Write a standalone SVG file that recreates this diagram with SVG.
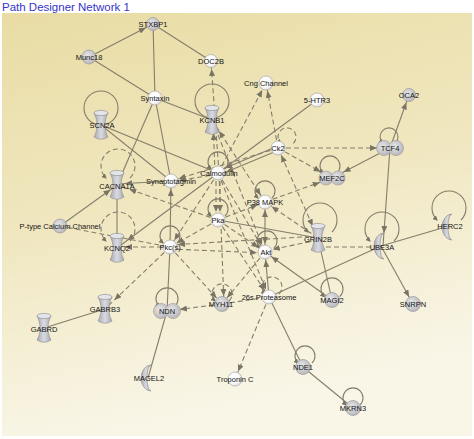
<svg xmlns="http://www.w3.org/2000/svg" xmlns:xlink="http://www.w3.org/1999/xlink" width="474" height="439" viewBox="0 0 474 439">
<defs>
<style>
.e{stroke:#847e6c;stroke-width:1.1;fill:none}
.d{stroke-dasharray:5 3}
.lbl{font-family:"Liberation Sans",Arial,sans-serif;font-size:7.5px;fill:#141414;text-anchor:middle}
.wn{fill:url(#gw);stroke:#a8a8a8;stroke-width:0.7}
.gn{fill:url(#gg);stroke:#9a9a9e;stroke-width:0.7}
.gf{fill:url(#gg);stroke:none}
.ch{fill:url(#gc);stroke:#8a8a90;stroke-width:0.6}
</style>
<linearGradient id="bg" x1="0" y1="0" x2="0.25" y2="1">
<stop offset="0" stop-color="#e9dca4"/>
<stop offset="0.5" stop-color="#f0e7c0"/>
<stop offset="1" stop-color="#f9f6e8"/>
</linearGradient>
<radialGradient id="gw" cx="0.4" cy="0.4" r="0.65">
<stop offset="0" stop-color="#ffffff"/>
<stop offset="0.6" stop-color="#fbfbfb"/>
<stop offset="1" stop-color="#dedede"/>
</radialGradient>
<radialGradient id="gg" cx="0.4" cy="0.4" r="0.65">
<stop offset="0" stop-color="#e8e8ea"/>
<stop offset="1" stop-color="#b6b6ba"/>
</radialGradient>
<linearGradient id="gc" x1="0" y1="0" x2="1" y2="0">
<stop offset="0" stop-color="#a8a9b1"/>
<stop offset="0.5" stop-color="#dadbe0"/>
<stop offset="1" stop-color="#a8a9b1"/>
</linearGradient>
<marker id="a8" viewBox="0 -3 7 6" refX="15" refY="0" markerWidth="7" markerHeight="6" markerUnits="userSpaceOnUse" orient="auto-start-reverse"><path d="M0,-3L7,0L0,3Z" fill="#7a7464"/></marker>
<marker id="a13" viewBox="0 -3 7 6" refX="20" refY="0" markerWidth="7" markerHeight="6" markerUnits="userSpaceOnUse" orient="auto-start-reverse"><path d="M0,-3L7,0L0,3Z" fill="#7a7464"/></marker>
<marker id="lp" viewBox="0 -2.5 5 5" refX="4" refY="0" markerWidth="5" markerHeight="5" markerUnits="userSpaceOnUse" orient="auto"><path d="M0,-2.5L5,0L0,2.5Z" fill="#7a7464"/></marker>
<g id="chan">
<path class="ch" d="M-7,-12 C-3,-5 -3,5 -7,12 Q0,16.5 7,12 C3,5 3,-5 7,-12 Z"/>
<ellipse cx="0" cy="-12" rx="7" ry="2.6" fill="#e4e5e9" stroke="#8a8a90" stroke-width="0.6"/>
</g>
<path id="cres" d="M3,-13 A10,13 0 0 0 3,13 A4,13 0 0 1 3,-13 Z" fill="url(#gc)" stroke="#8a8a90" stroke-width="0.6"/>
</defs>

<rect x="0" y="0" width="474" height="439" fill="#ffffff"/>
<rect x="2" y="13" width="470" height="423" fill="url(#bg)"/>
<text x="2" y="11" font-family="'Liberation Sans',Arial,sans-serif" font-size="11.5px" fill="#3535c8">Path Designer Network 1</text>

<g id="edges" class="e">
<!-- solid -->
<line x1="89" y1="57" x2="153" y2="24" marker-end="url(#a8)"/>
<line x1="89" y1="57" x2="155" y2="98"/>
<line x1="153" y1="24" x2="155" y2="98"/>
<line x1="153" y1="24" x2="211" y2="61"/>
<line x1="155" y1="98" x2="212" y2="120"/>
<line x1="155" y1="98" x2="117" y2="185"/>
<line x1="155" y1="98" x2="171" y2="181"/>
<line x1="101" y1="125" x2="171" y2="181"/>
<line x1="101" y1="125" x2="218" y2="173"/>
<line x1="317" y1="100" x2="218" y2="173"/>
<line x1="218" y1="173" x2="117" y2="248" marker-end="url(#a13)"/>
<line x1="60" y1="226" x2="117" y2="185" marker-end="url(#a8)"/>
<line x1="117" y1="185" x2="117" y2="248"/>
<line x1="171" y1="181" x2="117" y2="184" marker-end="url(#a8)"/>
<line x1="170" y1="247" x2="171" y2="181" marker-end="url(#a8)"/>
<line x1="170" y1="247" x2="167" y2="311"/>
<line x1="278" y1="146" x2="218" y2="171" marker-end="url(#a8)"/>
<line x1="279" y1="150" x2="219" y2="175" marker-end="url(#a8)"/>
<line x1="218" y1="220" x2="318" y2="238"/>
<line x1="265" y1="252" x2="265" y2="202" marker-start="url(#a8)" marker-end="url(#a8)"/>
<line x1="318" y1="238" x2="332" y2="300"/>
<line x1="332" y1="300" x2="265" y2="252" marker-end="url(#a8)"/>
<line x1="269" y1="297" x2="265" y2="252" marker-end="url(#a8)"/>
<line x1="381" y1="246" x2="269" y2="297"/>
<line x1="449" y1="226" x2="381" y2="246"/>
<line x1="390" y1="148" x2="383" y2="246" marker-end="url(#a13)"/>
<line x1="390" y1="148" x2="332" y2="178" marker-end="url(#a13)"/>
<line x1="390" y1="148" x2="409" y2="95" marker-end="url(#a8)"/>
<line x1="381" y1="246" x2="413" y2="304" marker-end="url(#a8)"/>
<line x1="269" y1="297" x2="303" y2="367"/>
<line x1="303" y1="367" x2="353" y2="408"/>
<line x1="167" y1="311" x2="148" y2="378"/>
<line x1="105" y1="309" x2="44" y2="328"/>
<!-- dashed -->
<g class="d">
<line x1="215" y1="173" x2="213" y2="120" marker-end="url(#a13)"/>
<line x1="219" y1="173" x2="211" y2="61" marker-end="url(#a8)"/>
<line x1="218" y1="173" x2="266" y2="83" marker-end="url(#a8)"/>
<line x1="278" y1="148" x2="266" y2="83" marker-end="url(#a8)"/>
<line x1="212" y1="120" x2="265" y2="202" marker-start="url(#a13)" marker-end="url(#a8)"/>
<line x1="212" y1="120" x2="265" y2="252" marker-end="url(#a8)"/>
<line x1="278" y1="148" x2="332" y2="178" marker-end="url(#a13)"/>
<line x1="278" y1="148" x2="390" y2="148" marker-end="url(#a13)"/>
<line x1="278" y1="148" x2="318" y2="238" marker-start="url(#a8)" marker-end="url(#a13)"/>
<line x1="278" y1="148" x2="171" y2="181" marker-end="url(#a8)"/>
<line x1="218" y1="174" x2="171" y2="182" marker-end="url(#a8)"/>
<line x1="216" y1="173" x2="216" y2="220" marker-end="url(#a8)"/>
<line x1="220" y1="173" x2="220" y2="220" marker-end="url(#a8)"/>
<line x1="218" y1="173" x2="170" y2="247" marker-end="url(#a8)"/>
<line x1="218" y1="173" x2="265" y2="252" marker-end="url(#a8)"/>
<line x1="218" y1="220" x2="265" y2="202" marker-end="url(#a8)"/>
<line x1="218" y1="220" x2="265" y2="252" marker-end="url(#a8)"/>
<line x1="218" y1="220" x2="170" y2="247" marker-end="url(#a8)"/>
<line x1="218" y1="220" x2="117" y2="185" marker-end="url(#a13)"/>
<line x1="218" y1="220" x2="269" y2="297" marker-end="url(#a8)"/>
<line x1="318" y1="238" x2="265" y2="202" marker-end="url(#a8)"/>
<line x1="265" y1="202" x2="332" y2="178" marker-end="url(#a13)"/>
<line x1="318" y1="240" x2="265" y2="251" marker-end="url(#a8)"/>
<line x1="318" y1="247" x2="381" y2="247"/>
<line x1="318" y1="236" x2="170" y2="245" marker-end="url(#a8)"/>
<line x1="170" y1="249" x2="265" y2="253" marker-end="url(#a8)"/>
<line x1="170" y1="247" x2="117" y2="247" marker-end="url(#a8)"/>
<line x1="60" y1="226" x2="170" y2="247"/>
<line x1="170" y1="247" x2="105" y2="309" marker-end="url(#a13)"/>
<line x1="265" y1="252" x2="222" y2="304" marker-end="url(#a8)"/>
<line x1="219" y1="173" x2="224" y2="304" marker-end="url(#a8)"/>
<line x1="170" y1="247" x2="222" y2="304" marker-end="url(#a8)"/>
<line x1="218" y1="173" x2="269" y2="297" marker-end="url(#a8)"/>
<line x1="222" y1="304" x2="167" y2="311" marker-end="url(#a13)"/>
<line x1="222" y1="304" x2="269" y2="297"/>
<line x1="269" y1="297" x2="235" y2="379" marker-end="url(#a8)"/>
</g>
<!-- self loops -->
<circle cx="101" cy="108" r="17"/>
<circle cx="212" cy="101" r="17"/>
<path class="d" d="M130,178 A17,17 0 1 0 106,178" marker-end="url(#lp)"/>
<path class="d" d="M130,241 A17,17 0 1 0 106,241" marker-end="url(#lp)"/>
<path d="M225,169 A10,10 0 1 0 211,169" marker-end="url(#lp)"/>
<path d="M225,216 A10,10 0 1 0 211,216" marker-end="url(#lp)"/>
<path d="M272,198 A10,10 0 1 0 258,198" marker-end="url(#lp)"/>
<path d="M274,248 A10,10 0 1 0 260,248" marker-end="url(#lp)"/>
<path d="M177,243 A10,10 0 1 0 163,243" marker-end="url(#lp)"/>
<path class="d" d="M293.3,143.3 A9,9 0 1 0 280.7,143.3" marker-end="url(#lp)"/>
<path d="M337,173 A10,10 0 1 0 323,173" marker-end="url(#lp)"/>
<path d="M395.3,143.3 A9,9 0 1 0 382.7,143.3" marker-end="url(#lp)"/>
<path d="M332,232 A17,17 0 1 0 308,232" marker-end="url(#lp)"/>
<path d="M394,241 A17,17 0 1 0 370,241" marker-end="url(#lp)"/>
<path d="M461,220 A17,17 0 1 0 437,220" marker-end="url(#lp)"/>
<path d="M174.7,306.7 A11,11 0 1 0 159.3,306.7" marker-end="url(#lp)"/>
<path class="d" d="M229,301 A10,10 0 1 0 215,301" marker-end="url(#lp)"/>
<path class="d" d="M279,294 A10,10 0 1 0 265,294" marker-end="url(#lp)"/>
<path d="M339.7,296.7 A11,11 0 1 0 324.3,296.7" marker-end="url(#lp)"/>
<path d="M312,363 A10,10 0 1 0 298,363" marker-end="url(#lp)"/>
<path d="M360,405 A10,10 0 1 0 346,405" marker-end="url(#lp)"/>
</g>

<g id="n-stxbp1"><circle class="gn" cx="153" cy="24" r="6.5"/><text class="lbl" x="153" y="27">STXBP1</text></g>
<g id="n-munc18"><circle class="gn" cx="89" cy="57" r="7"/><text class="lbl" x="89" y="60">Munc18</text></g>
<g id="n-doc2b"><circle class="wn" cx="211" cy="61" r="6.5"/><text class="lbl" x="211" y="64">DOC2B</text></g>
<g id="n-syntaxin"><circle class="wn" cx="155" cy="98" r="7"/><text class="lbl" x="155" y="101">Syntaxin</text></g>
<g id="n-cng"><circle class="wn" cx="266" cy="83" r="7"/><text class="lbl" x="266" y="86">Cng Channel</text></g>
<g id="n-5htr3"><circle class="wn" cx="317" cy="100" r="7"/><text class="lbl" x="317" y="103">5-HTR3</text></g>
<g id="n-oca2"><circle class="gn" cx="409" cy="95" r="6.5"/><text class="lbl" x="409" y="98">OCA2</text></g>
<g id="n-scn2a"><use href="#chan" x="101" y="125"/><text class="lbl" x="102" y="128">SCN2A</text></g>
<g id="n-kcnb1"><use href="#chan" x="212" y="120"/><text class="lbl" x="212" y="123">KCNB1</text></g>
<g id="n-cacna1a"><use href="#chan" x="117" y="185"/><text class="lbl" x="117" y="189">CACNA1A</text></g>
<g id="n-synaptotagmin"><circle class="wn" cx="171" cy="181" r="7"/><text class="lbl" x="171" y="184">Synaptotagmin</text></g>
<g id="n-calmodulin"><circle class="wn" cx="218" cy="173" r="7"/><text class="lbl" x="219" y="176">Calmodulin</text></g>
<g id="n-ck2"><circle class="wn" cx="278" cy="148" r="7"/><text class="lbl" x="278" y="151">Ck2</text></g>
<g id="n-mef2c"><circle class="gn" cx="326" cy="178" r="7"/><circle class="gn" cx="338" cy="178" r="7"/><circle class="gf" cx="326" cy="178" r="6.6"/><circle class="gf" cx="338" cy="178" r="6.6"/><text class="lbl" x="332" y="181">MEF2C</text></g>
<g id="n-tcf4"><circle class="gn" cx="384" cy="148" r="7.5"/><circle class="gn" cx="396" cy="148" r="7.5"/><circle class="gf" cx="384" cy="148" r="7.1"/><circle class="gf" cx="396" cy="148" r="7.1"/><text class="lbl" x="390" y="151">TCF4</text></g>
<g id="n-p38"><circle class="wn" cx="265" cy="202" r="7"/><text class="lbl" x="265" y="205">P38 MAPK</text></g>
<g id="n-pka"><circle class="wn" cx="218" cy="220" r="7"/><text class="lbl" x="218" y="223">Pka</text></g>
<g id="n-grin2b"><use href="#chan" x="318" y="238"/><text class="lbl" x="318" y="242">GRIN2B</text></g>
<g id="n-ube3a"><use href="#cres" x="381" y="246"/><text class="lbl" x="382" y="250">UBE3A</text></g>
<g id="n-herc2"><use href="#cres" x="449" y="227"/><text class="lbl" x="450" y="229">HERC2</text></g>
<g id="n-ptype"><circle class="gn" cx="60" cy="226" r="7"/><text class="lbl" x="60" y="229">P-type Calcium Channel</text></g>
<g id="n-kcnq2"><use href="#chan" x="117" y="248"/><text class="lbl" x="117" y="251">KCNQ2</text></g>
<g id="n-pkcs"><circle class="wn" cx="170" cy="247" r="7"/><text class="lbl" x="170" y="250">Pkc(s)</text></g>
<g id="n-akt"><circle class="wn" cx="265" cy="252" r="7"/><text class="lbl" x="266" y="255">Akt</text></g>
<g id="n-gabrb3"><use href="#chan" x="105" y="309"/><text class="lbl" x="105" y="312">GABRB3</text></g>
<g id="n-gabrd"><use href="#chan" x="44" y="328"/><text class="lbl" x="44" y="332">GABRD</text></g>
<g id="n-ndn"><circle class="gn" cx="161" cy="311" r="7.5"/><circle class="gn" cx="173" cy="311" r="7.5"/><circle class="gf" cx="161" cy="311" r="7.1"/><circle class="gf" cx="173" cy="311" r="7.1"/><text class="lbl" x="167" y="314">NDN</text></g>
<g id="n-myh11"><circle class="gn" cx="222" cy="304" r="7.5"/><text class="lbl" x="221" y="307">MYH11</text></g>
<g id="n-26s"><circle class="wn" cx="269" cy="297" r="7"/><text class="lbl" x="269" y="300">26s Proteasome</text></g>
<g id="n-magi2"><circle class="gn" cx="332" cy="300" r="7.5"/><text class="lbl" x="332" y="303">MAGI2</text></g>
<g id="n-snrpn"><circle class="gn" cx="413" cy="304" r="7.5"/><text class="lbl" x="413" y="307">SNRPN</text></g>
<g id="n-magel2"><use href="#cres" x="148" y="378"/><text class="lbl" x="149" y="381">MAGEL2</text></g>
<g id="n-troponinc"><circle class="wn" cx="235" cy="379" r="7"/><text class="lbl" x="235" y="382">Troponin C</text></g>
<g id="n-nde1"><circle class="gn" cx="303" cy="367" r="7.5"/><text class="lbl" x="303" y="370">NDE1</text></g>
<g id="n-mkrn3"><circle class="gn" cx="353" cy="408" r="7.5"/><text class="lbl" x="353" y="411">MKRN3</text></g>
</svg>
